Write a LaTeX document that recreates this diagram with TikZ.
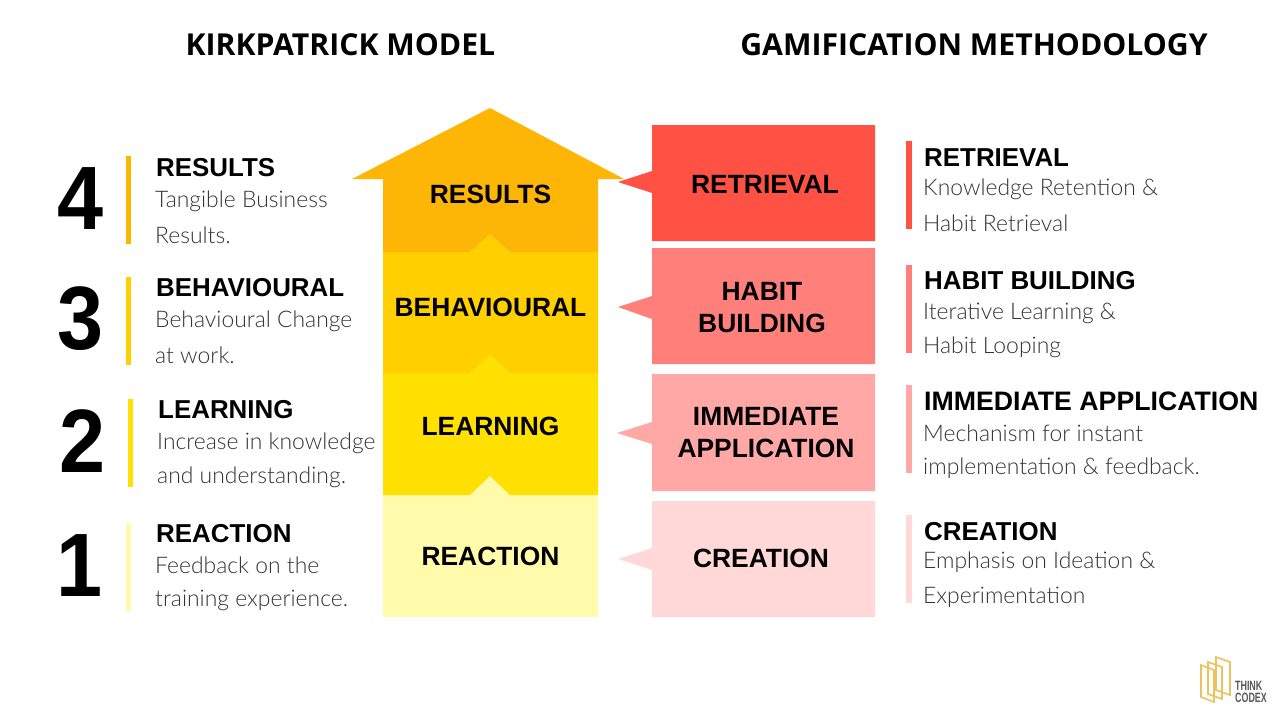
\documentclass[tikz,border=0pt]{standalone}
\usepackage{fontspec}
\setmainfont{Liberation Sans}
\newfontfamily\titlefont{Open Sans}
\newfontfamily\bodyfont{Lato Light}
\newfontfamily\headfont{Liberation Sans}
\definecolor{cres}{HTML}{FDB606}
\definecolor{cbeh}{HTML}{FFCF00}
\definecolor{clea}{HTML}{FFE000}
\definecolor{crea}{HTML}{FFFBAA}
\definecolor{rret}{HTML}{FF5245}
\definecolor{rhab}{HTML}{FF7F7B}
\definecolor{rimm}{HTML}{FFA8A5}
\definecolor{rcre}{HTML}{FFD8D7}
\definecolor{bodygrey}{HTML}{333333}
\definecolor{logoc}{HTML}{EBC25C}
\tikzset{
  titletext/.style={font=\titlefont\fontsize{30.2}{31}\selectfont\bfseries,text=black,inner sep=0pt},
  bignum/.style={font=\headfont\fontsize{90}{90}\selectfont\bfseries,text=black,inner sep=0pt,xscale=0.92},
  headtext/.style={font=\headfont\fontsize{25.9}{27}\selectfont\bfseries,text=black,anchor=west,inner sep=0pt},
  headwide/.style={font=\headfont\fontsize{26.7}{27}\selectfont\bfseries,text=black,anchor=west,inner sep=0pt},
  bodytext/.style={font=\bodyfont\fontsize{22.9}{23}\selectfont,text=bodygrey,anchor=west,inner sep=0pt},
  labeltext/.style={font=\headfont\fontsize{26.4}{32}\selectfont\bfseries,text=black,align=center,inner sep=0pt},
  bar/.style={inner sep=0pt,outer sep=0pt,minimum width=5.5pt,minimum height=88pt},
  logoline/.style={draw=logoc,line width=1.6pt},
  logotext/.style={font=\headfont\fontsize{13.5}{13.5}\selectfont\bfseries,text=black!65,inner sep=0pt,anchor=west,xscale=0.66},
}
\begin{document}
\begin{tikzpicture}[x=1pt,y=-1pt]
\useasboundingbox (0,0) rectangle (1280,720);
\fill[white] (0,0) rectangle (1280,720);
% titles
\node[titletext] (t1) at (340.5,45) {KIRKPATRICK MODEL};
\node[titletext] (t2) at (974,45) {GAMIFICATION METHODOLOGY};
% arrow
\fill[crea] (383,495) -- (470,495) -- (490,476) -- (510,495) -- (598,495) -- (598,617) -- (383,617) -- cycle;
\fill[clea] (383,373) -- (470,373) -- (490,355) -- (510,373) -- (598,373) -- (598,495) -- (510,495) -- (490,476) -- (470,495) -- (383,495) -- cycle;
\fill[cbeh] (383,252) -- (470,252) -- (490,234) -- (510,252) -- (598,252) -- (598,373) -- (510,373) -- (490,355) -- (470,373) -- (383,373) -- cycle;
\fill[cres] (490,108) -- (624,179) -- (598,179) -- (598,252) -- (510,252) -- (490,234) -- (470,252) -- (383,252) -- (383,179) -- (352,179) -- cycle;
\node[labeltext] (a4) at (490.5,194) {RESULTS};
\node[labeltext] (a3) at (490.5,307) {BEHAVIOURAL};
\node[labeltext] (a2) at (490.5,426) {LEARNING};
\node[labeltext] (a1) at (490.5,556) {REACTION};
% right callouts
\fill[rret] (652,125) -- (875,125) -- (875,241) -- (652,241) -- (652,193) -- (618,182) -- (652,171) -- cycle;
\fill[rhab] (652,248) -- (875,248) -- (875,364) -- (652,364) -- (652,319) -- (618,307) -- (652,296) -- cycle;
\fill[rimm] (652,374) -- (875,374) -- (875,491) -- (652,491) -- (652,444) -- (617,433) -- (652,422) -- cycle;
\fill[rcre] (652,501) -- (875,501) -- (875,617) -- (652,617) -- (652,570) -- (618,559) -- (652,548) -- cycle;
\node[labeltext] (c4) at (765,184) {RETRIEVAL};
\node[labeltext] (c3) at (762,307.5) {HABIT\\BUILDING};
\node[labeltext] (c2) at (766,432.5) {IMMEDIATE\\APPLICATION};
\node[labeltext] (c1) at (761,558) {CREATION};
% left column
\node[bignum] (n4) at (81,199) {4};
\node[bignum] (n3) at (81,319) {3};
\node[bignum] (n2) at (82.5,441) {2};
\node[bignum] (n1) at (80,566) {1};
\node[bar,fill=cres] (b4) at (128.5,199.5) {};
\node[bar,fill=cbeh] (b3) at (128.5,320.5) {};
\node[bar,fill=clea] (b2) at (130.5,443) {};
\node[bar,fill=crea] (b1) at (128.5,567) {};
\node[headtext] (h4) at (156,167.5) {RESULTS};
\node[bodytext] (d4a) at (155,201) {Tangible Business};
\node[bodytext] (d4b) at (155,235) {Results.};
\node[headtext] (h3) at (156,287.5) {BEHAVIOURAL};
\node[bodytext] (d3a) at (155,321) {Behavioural Change};
\node[bodytext] (d3b) at (155,355) {at work.};
\node[headtext] (h2) at (158,409.5) {LEARNING};
\node[bodytext] (d2a) at (157,443) {Increase in knowledge};
\node[bodytext] (d2b) at (157,477) {and understanding.};
\node[headtext] (h1) at (156,533.5) {REACTION};
\node[bodytext] (d1a) at (155,565.5) {Feedback on the};
\node[bodytext] (d1b) at (155,600) {training experience.};
% right column
\node[bar,fill=rret] (r4) at (909,185) {};
\node[bar,fill=rhab] (r3) at (909,308.5) {};
\node[bar,fill=rimm] (r2) at (909,429) {};
\node[bar,fill=rcre] (r1) at (909,559) {};
\node[headtext] (k4) at (924,157.5) {RETRIEVAL};
\node[bodytext] (e4a) at (923,189) {Knowledge Retention \&};
\node[bodytext] (e4b) at (923,223) {Habit Retrieval};
\node[headtext] (k3) at (924,280.5) {HABIT BUILDING};
\node[bodytext] (e3a) at (923,313) {Iterative Learning \&};
\node[bodytext] (e3b) at (923,347) {Habit Looping};
\node[headwide] (k2) at (924,401.5) {IMMEDIATE APPLICATION};
\node[bodytext] (e2a) at (923,433.5) {Mechanism for instant};
\node[bodytext] (e2b) at (923,468) {implementation \& feedback.};
\node[headtext] (k1) at (924,531.5) {CREATION};
\node[bodytext] (e1a) at (923,562.5) {Emphasis on Ideation \&};
\node[bodytext] (e1b) at (923,597) {Experimentation};
% logo
\draw[logoline] (1201,665) -- (1214,670) -- (1214,702) -- (1201,697) -- cycle;
\draw[logoline] (1208,662) -- (1222,667) -- (1222,699) -- (1208,694) -- cycle;
\draw[logoline] (1216,657) -- (1230,662) -- (1230,695) -- (1216,690) -- cycle;
\node[logotext] (l1) at (1235,685.5) {THINK};
\node[logotext] (l2) at (1235,697.5) {CODEX};
\end{tikzpicture}
\end{document}
